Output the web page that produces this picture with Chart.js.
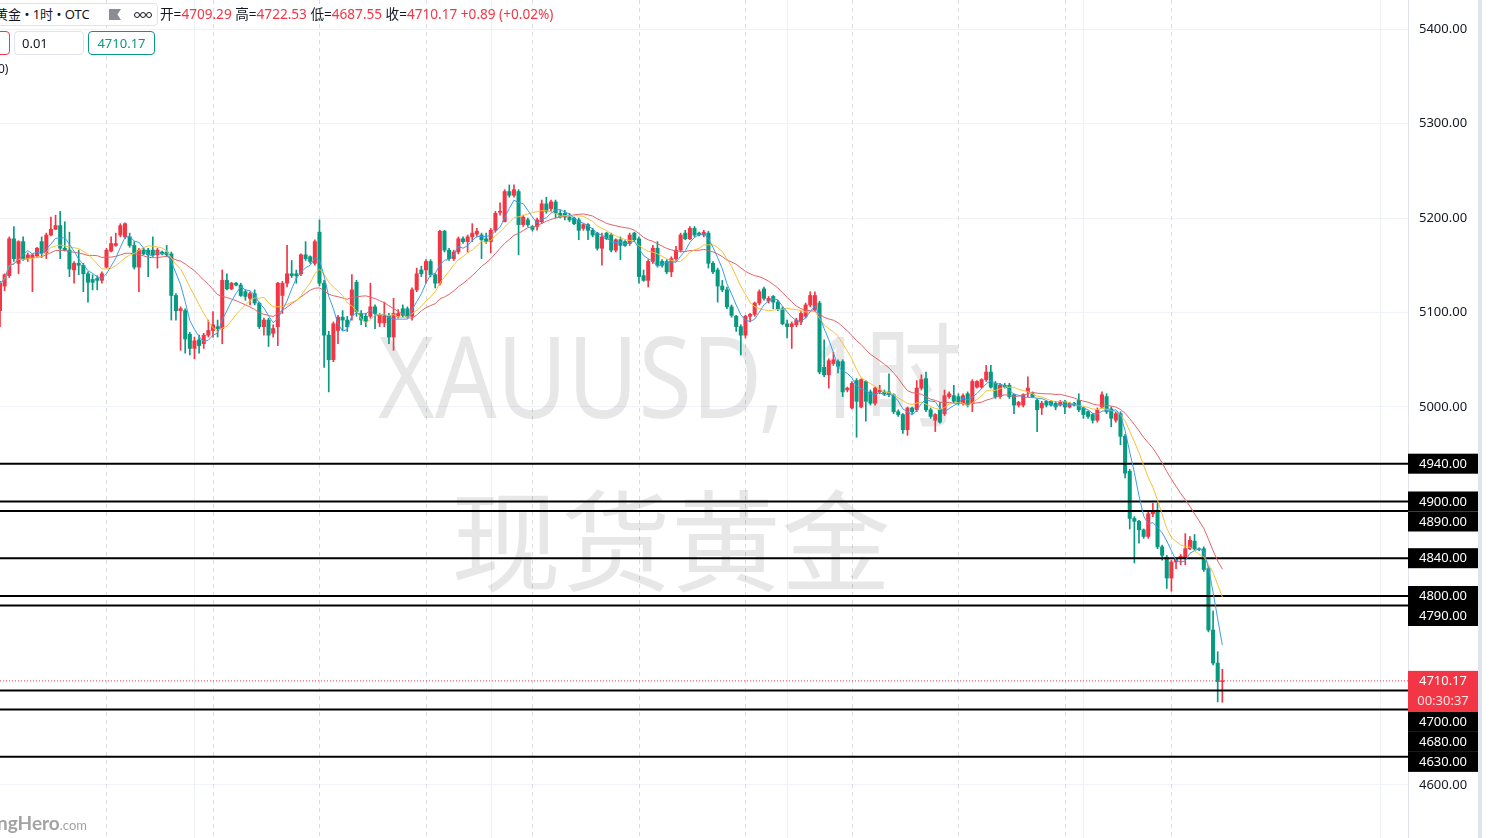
<!DOCTYPE html>
<html>
<head>
<meta charset="utf-8">
<script src="https://cdn.jsdelivr.net/npm/chart.js@4.4.1/dist/chart.umd.min.js"></script>
<style>
html, body { margin: 0; padding: 0; background: #fff; overflow: hidden; }
#wrap { position: relative; width: 1491px; height: 838px; overflow: hidden; }
#c { position: absolute; left: 0; top: 0; }
.t { position: absolute; font-family: "Noto Sans", "Noto Sans CJK SC", sans-serif; font-size: 13px; color: #131722; white-space: nowrap; line-height: 18px; }
.up { color: #F23645; }
.box { position: absolute; box-sizing: border-box; border-radius: 4px; background: #fff; }
</style>
</head>
<body>
<div id="wrap">
  <canvas id="c" width="1491" height="838"></canvas>

  <div class="box" style="left:-12px;top:3px;width:170px;height:23px;border:1px solid #e0e3eb;"></div>
  <div class="t" style="left:-5px;top:5px;">黄金 • 1时 • OTC</div>
  <div style="position:absolute;left:109px;top:9px;width:12px;height:11px;background:#8a8d96;clip-path:polygon(0 0,100% 0,70% 50%,100% 100%,0 100%);"></div>
  <div style="position:absolute;left:134px;top:12px;width:4px;height:4px;border:1px solid #131722;border-radius:50%;"></div>
  <div style="position:absolute;left:140px;top:12px;width:4px;height:4px;border:1px solid #131722;border-radius:50%;"></div>
  <div style="position:absolute;left:146px;top:12px;width:4px;height:4px;border:1px solid #131722;border-radius:50%;"></div>
  <div class="t" style="left:160px;top:5px;font-size:13.6px;">开=<span class="up">4709.29</span> 高=<span class="up">4722.53</span> 低=<span class="up">4687.55</span> 收=<span class="up">4710.17</span> <span class="up">+0.89 (+0.02%)</span></div>

  <div class="box" style="left:-20px;top:31px;width:30px;height:24px;border:1px solid #F23645;"></div>
  <div class="box" style="left:14px;top:31px;width:70px;height:24px;border:1px solid #e0e3eb;"></div>
  <div class="t" style="left:22px;top:34px;">0.01</div>
  <div class="box" style="left:88px;top:31px;width:67px;height:24px;border:1px solid #089981;"></div>
  <div class="t" style="left:88px;top:34px;width:67px;text-align:center;color:#089981;">4710.17</div>
  <div class="t" style="left:-2px;top:60px;font-size:12px;">0)</div>

  <div class="t" style="left:-3px;top:812px;font-family:Lato,'Noto Sans',sans-serif;font-weight:700;font-size:19px;color:#a3a3a3;line-height:22px;">ngHero<span style="font-weight:400;font-size:13px;">.com</span></div>
</div>

<script>
// hourly candles, left to right (XAUUSD 1H)
var opens = [
5102,5128,5139,5178,5152,5175,5157,5158,5160,5175,
5163,5182,5188,5192,5168,5166,5145,5152,5150,5141,
5135,5136,5134,5148,5165,5171,5182,5180,5180,5171,
5148,5166,5166,5166,5161,5164,5164,5162,5118,5102,
5102,5077,5062,5071,5067,5076,5081,5085,5083,5134,
5125,5131,5129,5122,5115,5120,5110,5085,5092,5078,
5085,5118,5131,5141,5141,5141,5161,5159,5152,5185,
5131,5076,5050,5081,5095,5092,5097,5132,5099,5096,
5096,5106,5089,5089,5096,5074,5096,5104,5104,5096,
5124,5145,5145,5154,5140,5131,5186,5166,5157,5164,
5178,5175,5180,5183,5182,5178,5175,5187,5206,5196,
5228,5224,5228,5193,5198,5191,5191,5196,5215,5210,
5217,5205,5205,5201,5200,5198,5189,5193,5187,5184,
5168,5184,5182,5166,5177,5175,5173,5184,5178,5139,
5134,5154,5168,5154,5154,5143,5157,5166,5184,5178,
5189,5184,5182,5184,5152,5145,5128,5124,5106,5096,
5085,5076,5096,5098,5110,5125,5112,5117,5111,5104,
5088,5085,5087,5090,5096,5108,5103,5110,5042,5034,
5046,5048,5048,5018,4999,5028,5000,5027,5016,5004,
5016,5016,5016,5013,4995,4992,4976,4999,4997,5020,
5030,4997,4986,4997,4993,5011,5012,5011,5004,5014,
5004,5021,5021,5029,5037,5025,5011,5023,5023,5013,
5002,5002,5016,5014,5007,4999,5006,5006,5004,5002,
5006,5000,5004,5007,4999,4995,4992,4986,5000,5011,
4998,4986,4993,4969,4932,4882,4879,4870,4863,4887,
4889,4852,4841,4819,4836,4840,4840,4850,4858,4850,
4850,4829,4764,4729,4709.29
];
var highs = [
5133,5141,5180,5191,5176,5180,5163,5162,5169,5180,
5184,5201,5203,5207,5196,5185,5154,5166,5152,5143,
5140,5139,5143,5168,5180,5184,5194,5195,5184,5175,
5168,5168,5168,5180,5168,5165,5171,5164,5120,5106,
5104,5079,5074,5076,5078,5092,5101,5092,5145,5141,
5132,5132,5131,5124,5122,5124,5111,5094,5094,5087,
5132,5133,5171,5155,5145,5162,5175,5160,5177,5198,
5134,5080,5090,5097,5102,5096,5140,5134,5102,5099,
5131,5108,5099,5111,5099,5115,5103,5108,5106,5126,
5147,5149,5156,5156,5141,5187,5187,5168,5166,5180,
5180,5182,5194,5189,5184,5184,5189,5207,5216,5230,
5235,5235,5230,5203,5200,5192,5200,5219,5222,5219,
5219,5208,5208,5205,5201,5200,5194,5194,5189,5185,
5184,5185,5184,5178,5180,5176,5184,5185,5180,5145,
5156,5171,5175,5156,5156,5159,5170,5184,5187,5191,
5191,5185,5187,5186,5154,5147,5134,5127,5108,5097,
5087,5097,5099,5111,5124,5127,5117,5118,5113,5106,
5092,5090,5094,5101,5110,5122,5122,5112,5071,5051,
5058,5050,5050,5021,5027,5030,5030,5028,5018,5021,
5023,5018,5035,5014,4997,4993,5000,5000,5028,5034,
5037,4999,4993,5005,5018,5016,5023,5014,5014,5016,
5029,5028,5030,5044,5044,5027,5025,5025,5025,5014,
5006,5014,5032,5016,5009,5006,5007,5007,5006,5007,
5007,5005,5005,5014,5000,4996,4993,4999,5016,5014,
5000,4995,4995,4971,4934,4884,4880,4871,4889,4898,
4898,4854,4843,4838,4841,4844,4866,4863,4865,4851,
4852,4831,4784,4741,4722.53
];
var lows = [
5085,5123,5137,5154,5141,5155,5154,5122,5158,5158,
5157,5181,5188,5157,5165,5138,5131,5140,5122,5111,
5124,5124,5131,5147,5164,5170,5180,5178,5169,5146,
5122,5161,5138,5159,5147,5161,5159,5092,5092,5060,
5057,5055,5051,5057,5062,5074,5074,5074,5067,5124,
5124,5128,5117,5113,5108,5108,5083,5076,5064,5074,
5065,5099,5127,5137,5131,5139,5155,5152,5150,5128,
5042,5016,5048,5067,5081,5080,5092,5096,5087,5085,
5094,5083,5085,5085,5067,5060,5094,5095,5094,5092,
5122,5138,5131,5138,5126,5129,5164,5155,5155,5162,
5173,5164,5175,5180,5157,5173,5163,5185,5203,5196,
5222,5222,5161,5191,5191,5186,5187,5194,5205,5207,
5200,5200,5198,5196,5193,5177,5187,5177,5180,5166,
5150,5177,5164,5164,5156,5170,5171,5175,5131,5133,
5127,5152,5148,5148,5141,5138,5155,5164,5177,5177,
5180,5181,5180,5147,5141,5111,5122,5104,5095,5080,
5055,5073,5090,5096,5108,5113,5110,5104,5102,5087,
5073,5062,5085,5087,5094,5106,5101,5035,5032,5020,
5044,5036,5011,5016,4998,4968,4999,4985,5002,5002,
5014,5012,5011,4993,4990,4972,4970,4993,4995,5018,
4995,4988,4974,4983,4991,5009,5004,5002,5002,5000,
4995,5020,5020,5027,5020,5009,5009,5020,5009,4993,
5000,5000,5011,5010,4974,4992,5000,5001,4997,5001,
4993,4999,5001,4995,4988,4988,4983,4984,4999,4993,
4979,4984,4960,4925,4871,4835,4856,4861,4861,4884,
4850,4838,4808,4805,4829,4833,4833,4849,4849,4848,
4826,4762,4727,4688,4687.55
];
var closes = [
5131,5140,5178,5157,5175,5156,5161,5161,5168,5163,
5182,5188,5192,5168,5166,5146,5152,5150,5141,5132,
5132,5134,5141,5166,5173,5173,5192,5194,5171,5148,
5166,5162,5161,5161,5166,5162,5161,5118,5102,5104,
5072,5062,5070,5065,5076,5081,5087,5083,5134,5125,
5131,5129,5118,5117,5120,5110,5085,5092,5076,5083,
5131,5131,5141,5139,5139,5161,5157,5154,5175,5131,
5076,5050,5088,5095,5092,5085,5124,5101,5092,5090,
5106,5099,5097,5096,5074,5099,5099,5097,5096,5124,
5141,5141,5154,5140,5131,5186,5166,5157,5164,5178,
5175,5180,5184,5186,5177,5175,5187,5205,5207,5228,
5224,5230,5193,5201,5193,5188,5198,5215,5207,5217,
5205,5201,5201,5198,5194,5187,5193,5187,5182,5168,
5180,5178,5166,5177,5171,5171,5182,5177,5138,5134,
5154,5168,5150,5150,5143,5157,5166,5182,5178,5189,
5182,5182,5185,5152,5143,5128,5124,5106,5097,5085,
5076,5096,5098,5110,5122,5115,5115,5111,5104,5088,
5085,5088,5092,5099,5108,5118,5118,5037,5034,5049,
5050,5043,5016,5020,5025,5006,5029,5006,5004,5020,
5018,5014,5013,4995,4992,4976,4999,4995,5020,5029,
4997,4990,4992,4984,5012,5014,5006,5004,5012,5002,
5027,5027,5029,5037,5021,5011,5023,5021,5011,5002,
5005,5013,5020,5011,4997,5004,5002,5002,5000,5006,
5000,5004,5002,4997,4992,4990,4986,4997,5013,4995,
4988,4993,4969,4930,4882,4879,4870,4863,4887,4890,
4852,4843,4819,4836,4839,4842,4850,4859,4850,4849,
4828,4764,4729,4709.28,4710.17
];

var levels = [4940, 4900, 4890, 4840, 4800, 4790, 4700, 4680, 4630];
var lastPrice = 4710.17;
var countdown = "00:30:37";
var yTicks = [5400, 5300, 5200, 5100, 5000, 4900, 4800, 4700, 4600];
var dayBreaks = [23, 46, 69, 92, 115, 138, 161, 184, 207, 230, 253];
var timeGrid = [42, 106, 170, 234, 298];
var watermark = ["XAUUSD, 1时", "现货黄金"];

var UP = "#F23645", DOWN = "#089981";
var XMAX = 304.1, YMIN = 4543.9, YMAX = 5430.7;

var candleColors = closes.map(function(c, i) { return c >= opens[i] ? UP : DOWN; });

var wickData = [], bodyData = [];
for (var i = 0; i < closes.length; i++) {
  wickData.push({ x: i, y: [lows[i], highs[i]] });
  bodyData.push({ x: i, y: [Math.min(opens[i], closes[i]), Math.max(opens[i], closes[i])] });
}

function sma(n) {
  return closes.map(function(c, i) {
    var s = closes.slice(Math.max(0, i - n + 1), i + 1);
    var sum = 0;
    s.forEach(function(v) { sum += v; });
    return { x: i, y: sum / s.length };
  });
}

function flat(v) { return [{ x: 0, y: v }, { x: XMAX, y: v }]; }

var datasets = [
  { type: 'line', data: sma(5), borderColor: '#3d9be9', borderWidth: 1, pointRadius: 0, order: 0 },
  { type: 'line', data: sma(10), borderColor: '#f6c137', borderWidth: 1, pointRadius: 0, order: 0.3 },
  { type: 'line', data: sma(20), borderColor: '#e3626a', borderWidth: 1, pointRadius: 0, order: 0.6 },
  { type: 'line', data: flat(lastPrice), borderColor: UP, borderWidth: 1, borderDash: [1, 2], pointRadius: 0, order: 1 }
];
levels.forEach(function(v) {
  datasets.push({ type: 'line', data: flat(v), borderColor: '#000', borderWidth: 2, pointRadius: 0, order: 1.5 });
});
datasets.push({ type: 'bar', data: bodyData, backgroundColor: candleColors, barThickness: 3.4, minBarLength: 1, grouped: false, order: 2 });
datasets.push({ type: 'bar', data: wickData, backgroundColor: candleColors, barThickness: 1, grouped: false, order: 3 });

var extras = {
  id: 'extras',
  beforeDatasetsDraw: function(chart) {
    var ctx = chart.ctx, a = chart.chartArea, x = chart.scales.x;
    ctx.save();
    ctx.beginPath();
    ctx.rect(a.left, a.top, a.right - a.left, a.bottom - a.top);
    ctx.clip();
    ctx.lineWidth = 1;
    ctx.strokeStyle = '#eef0f4';
    timeGrid.forEach(function(i) {
      var px = Math.round(x.getPixelForValue(i)) + 0.5;
      ctx.beginPath(); ctx.moveTo(px, a.top); ctx.lineTo(px, a.bottom); ctx.stroke();
    });
    ctx.setLineDash([4, 4]);
    ctx.strokeStyle = '#dadce2';
    dayBreaks.forEach(function(i) {
      var px = Math.round(x.getPixelForValue(i)) + 0.5;
      ctx.beginPath(); ctx.moveTo(px, a.top); ctx.lineTo(px, a.bottom); ctx.stroke();
    });
    ctx.setLineDash([]);
    // watermark, first line squeezed to the reference width
    ctx.fillStyle = 'rgba(19,23,34,0.1)';
    ctx.textAlign = 'center';
    ctx.textBaseline = 'alphabetic';
    ctx.font = '114px "Noto Sans", "Noto Sans CJK SC", sans-serif';
    var w0 = ctx.measureText(watermark[0]).width;
    ctx.save();
    ctx.translate(670, 418);
    ctx.scale(584 / w0, 1);
    ctx.fillText(watermark[0], 0, 0);
    ctx.restore();
    ctx.textBaseline = 'middle';
    ctx.font = '110px "Noto Sans CJK SC", sans-serif';
    ctx.fillText(watermark[1], 671, 541);
    ctx.restore();
  },
  afterDraw: function(chart) {
    var ctx = chart.ctx, y = chart.scales.y;
    var left = y.left, w = 70;
    var items = levels.map(function(v) { return { v: v, h: 20, bg: '#000', lines: [v.toFixed(2)] }; });
    items.push({ v: lastPrice, h: 41, bg: UP, lines: [lastPrice.toFixed(2), countdown] });
    items.sort(function(p, q) { return q.v - p.v; });
    var prev = -1e9;
    ctx.save();
    ctx.font = '13px "Noto Sans", sans-serif';
    ctx.textAlign = 'center';
    ctx.textBaseline = 'middle';
    items.forEach(function(it) {
      var top = Math.max(y.getPixelForValue(it.v) - 10, prev);
      ctx.fillStyle = it.bg;
      ctx.fillRect(left, top, w, it.h);
      it.lines.forEach(function(s, k) {
        ctx.fillStyle = k === 0 ? '#fff' : 'rgba(255,255,255,0.85)';
        ctx.fillText(s, left + w / 2, top + 10.5 + k * 20);
      });
      prev = top + it.h;
    });
    ctx.fillStyle = '#e0e3eb';
    ctx.fillRect(left + w, 0, 4, chart.height);
    ctx.restore();
  }
};

new Chart(document.getElementById('c'), {
  type: 'bar',
  data: { datasets: datasets },
  options: {
    responsive: false,
    animation: false,
    devicePixelRatio: 1,
    layout: { autoPadding: false, padding: { left: 0, right: 13, top: 0, bottom: 0 } },
    plugins: { legend: { display: false }, tooltip: { enabled: false } },
    elements: { line: { tension: 0 }, bar: { borderWidth: 0 } },
    scales: {
      x: { type: 'linear', min: 0, max: XMAX, offset: false, display: false },
      y: {
        position: 'right',
        min: YMIN,
        max: YMAX,
        afterFit: function(s) { s.width = 70; s.paddingTop = 0; s.paddingBottom = 0; },
        afterBuildTicks: function(s) { s.ticks = yTicks.map(function(v) { return { value: v }; }); },
        ticks: {
          color: '#131722',
          padding: 11,
          font: { size: 13, family: '"Noto Sans", sans-serif' },
          callback: function(v) { return Number(v).toFixed(2); }
        },
        grid: { color: '#f0f3fa', drawTicks: false },
        border: { color: '#e0e3eb' }
      }
    }
  },
  plugins: [extras]
});
</script>
</body>
</html>
